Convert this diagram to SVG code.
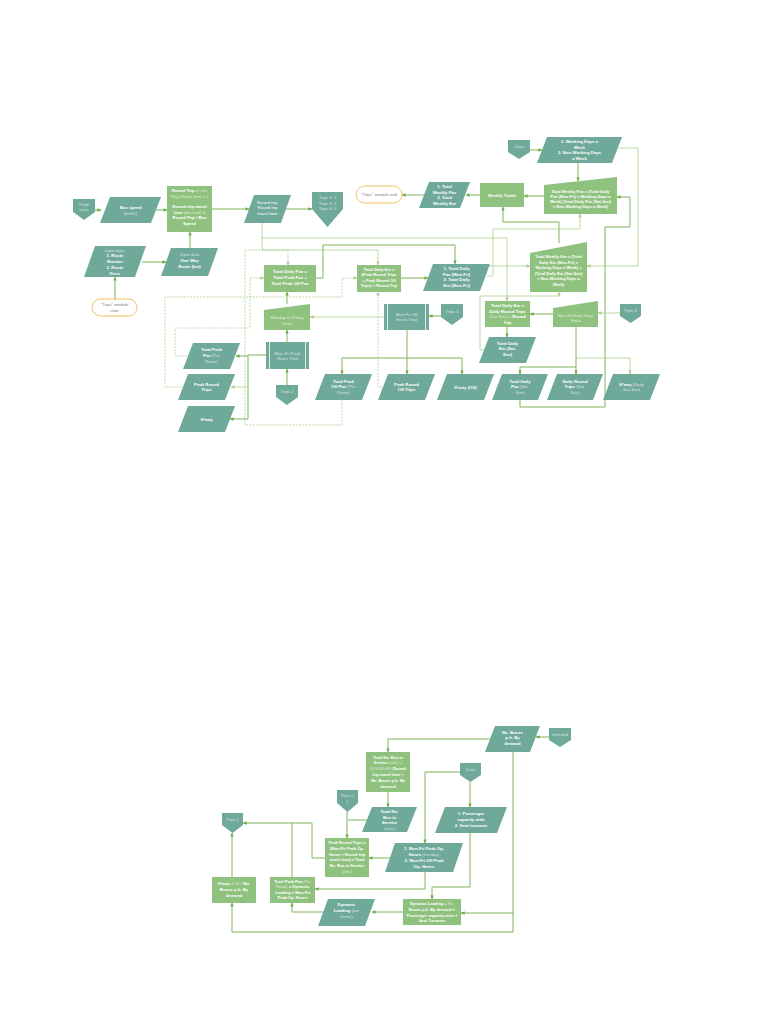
<svg xmlns="http://www.w3.org/2000/svg" width="768" height="1024" viewBox="0 0 768 1024">
<style>
.t{fill:#6fa99a}
.g{fill:#8fc27e}
.term{fill:#fff;stroke:#f0b94e;stroke-width:0.9}
.tx{font-family:"Liberation Sans",Arial,sans-serif;font-size:4.3px;font-weight:bold;fill:#fff;text-anchor:middle}
.p{font-weight:normal;fill-opacity:0.72}
.gy{fill:#808080;font-weight:normal}
.pl{stroke:#fff;stroke-width:0.8}
.c{fill:none;stroke:#71ad47;stroke-width:0.9;marker-end:url(#a)}
.cn{fill:none;stroke:#71ad47;stroke-width:0.9}
.l{fill:none;stroke:#a9d18e;stroke-width:0.8;marker-end:url(#al)}
.ln{fill:none;stroke:#a9d18e;stroke-width:0.8}
.d{fill:none;stroke:#a9d18e;stroke-width:0.8;stroke-dasharray:2 1.3;marker-end:url(#al)}
.dn{fill:none;stroke:#a9d18e;stroke-width:0.8;stroke-dasharray:2 1.3}
</style>
<defs>
<marker id="a" markerWidth="4" markerHeight="4" refX="3.6" refY="2" orient="auto" markerUnits="userSpaceOnUse"><path d="M0,0.3 L4,2 L0,3.7z" fill="#71ad47"/></marker>
<marker id="al" markerWidth="4" markerHeight="4" refX="3.6" refY="2" orient="auto" markerUnits="userSpaceOnUse"><path d="M0,0.3 L4,2 L0,3.7z" fill="#a9d18e"/></marker>
</defs>
<rect width="768" height="1024" fill="#fff"/>

<g id="connectors">
<!-- top -->
<path class="c" d="M95,210 H101"/>
<path class="c" d="M156,210 H167"/>
<path class="c" d="M212,209 H249"/>
<path class="c" d="M286,209 H312"/>
<path class="c" d="M142,262 H166"/>
<path class="c" d="M190,248 V232"/>
<path class="c" d="M115,299 V277"/>
<path class="c" d="M480,195 H466"/>
<path class="c" d="M424,195 H402"/>
<path class="c" d="M530,150 H542"/>
<path class="c" d="M578,163 V181"/>
<path class="c" d="M544,196 H524"/>
<path class="c" d="M559,243 V222 H503 V207"/>
<path class="l" d="M618,148 H638 V266 H587"/>
<path class="c" d="M520,400 V407 H605 V227 H630 V197 H617"/>
<path class="l" d="M487,276 H493 V229 H580 V214"/>
<path class="l" d="M489,266 H530"/>
<path class="l" d="M262,223 V238 H507 V301"/>
<path class="l" d="M262,238 V250 H378 V265"/>
<path class="c" d="M316,278 H323 V245 H455 V264"/>
<path class="c" d="M401,278 H428"/>
<path class="l" d="M484,350 H480 V296 H559 V292"/>
<path class="c" d="M507,327 V337"/>
<path class="c" d="M553,314 H530"/>
<path class="l" d="M620,313 H598"/>
<path class="c" d="M576,327 V374"/>
<path class="l" d="M576,358 H630 V374"/>
<path class="c" d="M576,367 H520 V374"/>
<path class="c" d="M287,304 V292"/>
<path class="c" d="M287,342 V330"/>
<path class="c" d="M287,385 V369"/>
<path class="l" d="M384,317 H310"/>
<path class="c" d="M441,316 H429"/>
<path class="c" d="M407,330 V358 H342 V374"/>
<path class="c" d="M407,358 V374"/>
<path class="c" d="M407,358 H462 V374"/>
<path class="c" d="M266,355 H248 V419 H230"/>
<path class="c" d="M248,356 H236"/>
<path class="l" d="M248,387 H231"/>
<path class="d" d="M187,356 H175 V328 H250 V278 H264"/>
<path class="d" d="M182,387 H165 V297 H342 V278 H357"/>
<path class="d" d="M342,400 V425 H245 V250 H288 V265"/>
<path class="d" d="M382,387 H378 V292"/>
<!-- bottom -->
<path class="c" d="M549,737 H536"/>
<path class="c" d="M490,739 H388 V752"/>
<path class="c" d="M388,792 V807"/>
<path class="c" d="M513,752 V932 H232 V903"/>
<path class="c" d="M513,913 H461"/>
<path class="c" d="M470,782 V807"/>
<path class="c" d="M460,772 H425 V843"/>
<path class="c" d="M470,833 V887 H432 V899"/>
<path class="c" d="M391,858 H369"/>
<path class="c" d="M425,872 V889 H315"/>
<path class="c" d="M403,912 H372"/>
<path class="c" d="M323,912 H292 V903"/>
<path class="cn" d="M367,820 H348"/>
<path class="c" d="M347,812 V838"/>
<path class="c" d="M325,858 H312 V823 H243"/>
<path class="cn" d="M292,877 V823"/>
<path class="c" d="M232,877 V833"/>
</g>

<!-- TOP NODES -->
<g id="n_profit"><polygon class="t" points="73,199 95,199 95,212 84,220 73,212"/>
<text class="tx p"><tspan x="84" y="205.5">Profit</tspan><tspan x="84" y="210.5">Loss</tspan></text></g>

<g id="n_busspeed"><polygon class="t" points="110,197 161,197 151,223 100,223"/>
<text class="tx"><tspan x="130.5" y="209">Bus speed</tspan><tspan x="130.5" y="214.5" class="p">(km/hr)</tspan></text></g>

<g id="n_rtcalc"><rect class="g" x="167" y="186" width="45" height="46"/>
<text class="tx"><tspan x="189.5" y="192">Round Trip <tspan class="p">= One</tspan></tspan><tspan x="189.5" y="197.5" class="p">Way Route (km) x 2</tspan><tspan x="189.5" y="208">Round trip travel</tspan><tspan x="189.5" y="213.5">time <tspan class="p">(decimal) =</tspan></tspan><tspan x="189.5" y="219">Round Trip / Bus</tspan><tspan x="189.5" y="224.5">Speed</tspan></text></g>

<g id="n_input1"><polygon class="t" points="95,246 146,246 135,277 84,277"/>
<text class="tx"><tspan x="115" y="251.5" class="p">Input data:</tspan><tspan x="115" y="257.3">1. Route</tspan><tspan x="115" y="263.1">Number</tspan><tspan x="115" y="268.9">2. Route</tspan><tspan x="115" y="274.7">Desc</tspan></text></g>

<g id="n_input2"><polygon class="t" points="171,248 218,248 208,276 161,276"/>
<text class="tx"><tspan x="189.5" y="256" class="p">Input data</tspan><tspan x="189.5" y="262">One Way</tspan><tspan x="189.5" y="268">Route (km)</tspan></text></g>

<g id="n_start"><rect class="term" x="92" y="299" width="45" height="17" rx="8.5"/>
<text class="tx gy"><tspan x="114.5" y="306">“Trips” module</tspan><tspan x="114.5" y="311.5">start</tspan></text></g>

<g id="n_rt"><polygon class="t" points="254,195 291,195 281,223 244,223"/>
<text class="tx" style="font-weight:normal"><tspan x="267.5" y="203.5">Round trip,</tspan><tspan x="267.5" y="209">Round trip</tspan><tspan x="267.5" y="214.5">travel time</tspan></text></g>

<g id="n_trips234"><polygon class="t" points="312,192 343,192 343,209 327.5,227 312,209"/>
<text class="tx p"><tspan x="327.5" y="199">Trips 2: 1</tspan><tspan x="327.5" y="204.5">Trips 3: 1</tspan><tspan x="327.5" y="210">Trips 4: 1</tspan></text></g>

<g id="n_end"><rect class="term" x="356" y="186" width="46" height="17" rx="8.5"/>
<text class="tx gy"><tspan x="379" y="196">“Trips” module end</tspan></text></g>

<g id="n_weeklyout"><polygon class="t" points="429,182 470,182 460,208 419,208"/>
<text class="tx"><tspan x="444.5" y="188">1. Total</tspan><tspan x="444.5" y="193.5">Weekly Pax</tspan><tspan x="444.5" y="199">2. Total</tspan><tspan x="444.5" y="204.5">Weekly Km</tspan></text></g>

<g id="n_weeklytotals"><rect class="g" x="480" y="183" width="44" height="24"/>
<text class="tx"><tspan x="502" y="196.5">Weekly Totals</tspan></text></g>

<g id="n_data1"><polygon class="t" points="508,140 530,140 530,152 519,159 508,152"/>
<text class="tx p"><tspan x="519" y="148">Data</tspan></text></g>

<g id="n_workdays"><polygon class="t" points="547,137 622,137 612,163 537,163"/>
<text class="tx"><tspan x="579.5" y="143">1. Working Days a</tspan><tspan x="579.5" y="148.5">Week</tspan><tspan x="579.5" y="154">2. Non-Working Days</tspan><tspan x="579.5" y="159.5">a Week</tspan></text></g>

<g id="n_weeklypax"><polygon class="g" points="544,185 617,177 617,214 544,214"/>
<text class="tx" style="font-size:4px"><tspan x="580.5" y="193">Total Weekly Pax = (Total Daily</tspan><tspan x="580.5" y="198">Pax (Mon-Fri) × Working Days a</tspan><tspan x="580.5" y="203">Week) (Total Daily Pax (Sat-Sun)</tspan><tspan x="580.5" y="208">× Non-Working Days a Week)</tspan></text></g>

<g id="n_totaldailypax"><rect class="g" x="264" y="265" width="52" height="27"/>
<text class="tx"><tspan x="290" y="273">Total Daily Pax =</tspan><tspan x="290" y="279">Total Peak Pax +</tspan><tspan x="290" y="285">Total Peak Off Pax</tspan></text></g>

<g id="n_totaldailykm"><rect class="g" x="357" y="265" width="44" height="27"/>
<text class="tx" style="font-size:4px"><tspan x="379" y="270.5">Total Daily Km =</tspan><tspan x="379" y="276">(Peak Round Trips</tspan><tspan x="379" y="281.5">+ Peak Round Off</tspan><tspan x="379" y="287">Trips) × Round Trip</tspan></text></g>

<g id="n_dailyout"><polygon class="t" points="433,264 490,264 480,291 423,291"/>
<text class="tx"><tspan x="456.5" y="270">1. Total Daily</tspan><tspan x="456.5" y="275.7">Pax (Mon-Fri)</tspan><tspan x="456.5" y="281.4">2. Total Daily</tspan><tspan x="456.5" y="287.1">Km (Mon-Fri)</tspan></text></g>

<g id="n_weeklykm"><polygon class="g" points="530,253 587,242 587,292 530,292"/>
<text class="tx" style="font-size:4px"><tspan x="558.5" y="258">Total Weekly Km = (Total</tspan><tspan x="558.5" y="263.5">Daily Km (Mon-Fri) ×</tspan><tspan x="558.5" y="269">Working Days a Week) +</tspan><tspan x="558.5" y="274.5">(Total Daily Km (Sat-Sun)</tspan><tspan x="558.5" y="280">× Non-Working Days a</tspan><tspan x="558.5" y="285.5">Week)</tspan></text></g>

<g id="n_monfri"><polygon class="g" points="264,310 310,304 310,330 264,330"/>
<text class="tx p"><tspan x="287" y="319">Monday to Friday</tspan><tspan x="287" y="324.5">Totals</tspan></text></g>

<g id="n_satkmcalc"><rect class="g" x="485" y="301" width="45" height="26"/>
<text class="tx"><tspan x="507.5" y="307">Total Daily Km =</tspan><tspan x="507.5" y="312.5">Daily Round Trips</tspan><tspan x="507.5" y="318"><tspan class="p">(Sat-Sun) x</tspan> Round</tspan><tspan x="507.5" y="323.5">Trip</tspan></text></g>

<g id="n_nonwork"><polygon class="g" points="553,308 598,301 598,327 553,327"/>
<text class="tx p"><tspan x="575.5" y="316.5">Non-Working Days</tspan><tspan x="575.5" y="322">Totals</tspan></text></g>

<g id="n_trips4"><polygon class="t" points="620,304 641,304 641,316 630.5,323 620,316"/>
<text class="tx p"><tspan x="630.5" y="312">Trips 4</tspan></text></g>

<g id="n_peakhours"><rect class="t" x="266" y="342" width="43" height="27"/>
<line class="pl" x1="269.5" y1="342" x2="269.5" y2="369"/><line class="pl" x1="305.5" y1="342" x2="305.5" y2="369"/>
<text class="tx p"><tspan x="287.5" y="354.5">Mon-Fri Peak</tspan><tspan x="287.5" y="360">Hours Total</tspan></text></g>

<g id="n_offhours"><rect class="t" x="384" y="304" width="45" height="26"/>
<line class="pl" x1="387.5" y1="304" x2="387.5" y2="330"/><line class="pl" x1="425.5" y1="304" x2="425.5" y2="330"/>
<text class="tx p"><tspan x="406.5" y="315.5">Mon-Fri Off</tspan><tspan x="406.5" y="321">Hours Total</tspan></text></g>

<g id="n_trips3"><polygon class="t" points="441,304 463,304 463,317 452,325 441,317"/>
<text class="tx p"><tspan x="452" y="312.5">Trips 3</tspan></text></g>

<g id="n_satkm"><polygon class="t" points="489,337 536,337 526,363 479,363"/>
<text class="tx"><tspan x="507.5" y="344.5">Total Daily</tspan><tspan x="507.5" y="350.3">Km (Sat-</tspan><tspan x="507.5" y="356.1">Sun)</tspan></text></g>

<g id="n_peakpax"><polygon class="t" points="193,343 240,343 230,369 183,369"/>
<text class="tx"><tspan x="211.5" y="351">Total Peak</tspan><tspan x="211.5" y="356.8">Pax <tspan class="p">(Per</tspan></tspan><tspan x="211.5" y="362.6" class="p">Route)</tspan></text></g>

<g id="n_peakrt"><polygon class="t" points="188,374 235,374 225,400 178,400"/>
<text class="tx"><tspan x="206.5" y="385.5">Peak Round</tspan><tspan x="206.5" y="391.3">Trips</tspan></text></g>

<g id="n_hway"><polygon class="t" points="188,406 235,406 225,432 178,432"/>
<text class="tx"><tspan x="206.5" y="420.5">H'way</tspan></text></g>

<g id="n_trips2"><polygon class="t" points="276,385 298,385 298,397 287,405 276,397"/>
<text class="tx p"><tspan x="287" y="393">Trips 2</tspan></text></g>

<g id="n_peakoffpax"><polygon class="t" points="325,374 372,374 362,400 315,400"/>
<text class="tx"><tspan x="343.5" y="382.5">Total Peak</tspan><tspan x="343.5" y="388.3">Off Pax <tspan class="p">(Per</tspan></tspan><tspan x="343.5" y="394.1" class="p">Route)</tspan></text></g>

<g id="n_peakoffrt"><polygon class="t" points="388,374 435,374 425,400 378,400"/>
<text class="tx"><tspan x="406.5" y="385.5">Peak Round</tspan><tspan x="406.5" y="391.3">Off Trips</tspan></text></g>

<g id="n_hwayoff"><polygon class="t" points="447,374 494,374 484,400 437,400"/>
<text class="tx"><tspan x="465.5" y="388.5">H'way (Off)</tspan></text></g>

<g id="n_satpax"><polygon class="t" points="502,374 548,374 538,400 492,400"/>
<text class="tx"><tspan x="520" y="382.5">Total Daily</tspan><tspan x="520" y="388.3">Pax <tspan class="p">(Sat-</tspan></tspan><tspan x="520" y="394.1" class="p">Sun)</tspan></text></g>

<g id="n_satrt"><polygon class="t" points="557,374 603,374 593,400 547,400"/>
<text class="tx"><tspan x="575" y="382.5">Daily Round</tspan><tspan x="575" y="388.3">Trips <tspan class="p">(Sat-</tspan></tspan><tspan x="575" y="394.1" class="p">Sun)</tspan></text></g>

<g id="n_hwaysat"><polygon class="t" points="613,374 660,374 650,400 603,400"/>
<text class="tx"><tspan x="631.5" y="385.5">H'way <tspan class="p">(Daily</tspan></tspan><tspan x="631.5" y="391.3" class="p">Sat-Sun)</tspan></text></g>

<!-- BOTTOM NODES -->
<g id="n_buses"><polygon class="t" points="495,726 540,726 530,752 485,752"/>
<text class="tx"><tspan x="512.5" y="733.5">No. Buses</tspan><tspan x="512.5" y="739.3">p.h. By</tspan><tspan x="512.5" y="745.1">demand</tspan></text></g>

<g id="n_demand"><polygon class="t" points="549,728 571,728 571,740 560,747 549,740"/>
<text class="tx p"><tspan x="560" y="736">Demand</tspan></text></g>

<g id="n_busservicecalc"><rect class="g" x="366" y="752" width="44" height="40"/>
<text class="tx" style="font-size:4px"><tspan x="388" y="758.5">Total No. Bus in</tspan><tspan x="388" y="764.3">Service <tspan class="p">(artic) =</tspan></tspan><tspan x="388" y="770.1"><tspan class="p">ROUNDUP (</tspan>Round</tspan><tspan x="388" y="775.9">trip travel time ÷</tspan><tspan x="388" y="781.7">No. Buses p.h. By</tspan><tspan x="388" y="787.5">demand</tspan></text></g>

<g id="n_busservice"><polygon class="t" points="372,807 417,807 407,832 362,832"/>
<text class="tx"><tspan x="389.5" y="813">Total No.</tspan><tspan x="389.5" y="818.5">Bus in</tspan><tspan x="389.5" y="824">Service</tspan><tspan x="389.5" y="829.5" class="p">(artic)</tspan></text></g>

<g id="n_data2"><polygon class="t" points="460,763 481,763 481,775 470.5,782 460,775"/>
<text class="tx p"><tspan x="470.5" y="771">Data</tspan></text></g>

<g id="n_capacity"><polygon class="t" points="445,807 507,807 497,833 435,833"/>
<text class="tx"><tspan x="471" y="815">1. Passenger</tspan><tspan x="471" y="821">capacity artic</tspan><tspan x="471" y="827">2. Seat turnover</tspan></text></g>

<g id="n_trips21"><polygon class="t" points="337,790 358,790 358,803 347.5,812 337,803"/>
<text class="tx p"><tspan x="347.5" y="797">Trips 2:</tspan><tspan x="347.5" y="802.5">1</tspan></text></g>

<g id="n_trips2b"><polygon class="t" points="222,813 243,813 243,825 232.5,833 222,825"/>
<text class="tx p"><tspan x="232.5" y="820.5">Trips 2</tspan></text></g>

<g id="n_peakrtcalc"><rect class="g" x="325" y="838" width="44" height="39"/>
<text class="tx" style="font-size:4px"><tspan x="347" y="844">Peak Round Trips =</tspan><tspan x="347" y="849.8">(Mon-Fri Peak Op.</tspan><tspan x="347" y="855.6">Hours ÷ Round trip</tspan><tspan x="347" y="861.4">travel time) × Total</tspan><tspan x="347" y="867.2">No. Bus in Service</tspan><tspan x="347" y="873" class="p">(artic)</tspan></text></g>

<g id="n_ophours"><polygon class="t" points="395,843 463,843 453,872 385,872"/>
<text class="tx"><tspan x="424" y="850">1. Mon-Fri Peak Op.</tspan><tspan x="424" y="856">Hours <tspan class="p">(hrs/day)</tspan></tspan><tspan x="424" y="862">2. Mon-Fri Off Peak</tspan><tspan x="424" y="868">Op. Hours</tspan></text></g>

<g id="n_hwaycalc"><rect class="g" x="212" y="877" width="44" height="26"/>
<text class="tx"><tspan x="234" y="885"><tspan>H'way</tspan><tspan class="p"> = 60 /</tspan> No.</tspan><tspan x="234" y="891">Buses p.h. By</tspan><tspan x="234" y="897">demand</tspan></text></g>

<g id="n_peakpaxcalc"><rect class="g" x="270" y="877" width="45" height="26"/>
<text class="tx" style="font-size:4px"><tspan x="292.5" y="882.5">Total Peak Pax <tspan class="p">(Per</tspan></tspan><tspan x="292.5" y="888"><tspan class="p">Route)</tspan> = Dynamic</tspan><tspan x="292.5" y="893.5">Loading × Mon-Fri</tspan><tspan x="292.5" y="899">Peak Op. Hours</tspan></text></g>

<g id="n_dl"><polygon class="t" points="328,899 375,899 365,926 318,926"/>
<text class="tx"><tspan x="346.5" y="906">Dynamic</tspan><tspan x="346.5" y="912">Loading <tspan class="p">(per</tspan></tspan><tspan x="346.5" y="918" class="p">hours)</tspan></text></g>

<g id="n_dlcalc"><rect class="g" x="403" y="899" width="58" height="26"/>
<text class="tx" style="font-size:4px"><tspan x="432" y="905">Dynamic Loading <tspan class="p">= No.</tspan></tspan><tspan x="432" y="910.8">Buses p.h. By demand ×</tspan><tspan x="432" y="916.6">Passenger capacity artic ×</tspan><tspan x="432" y="922.4">Seat Turnover</tspan></text></g>
</svg>
